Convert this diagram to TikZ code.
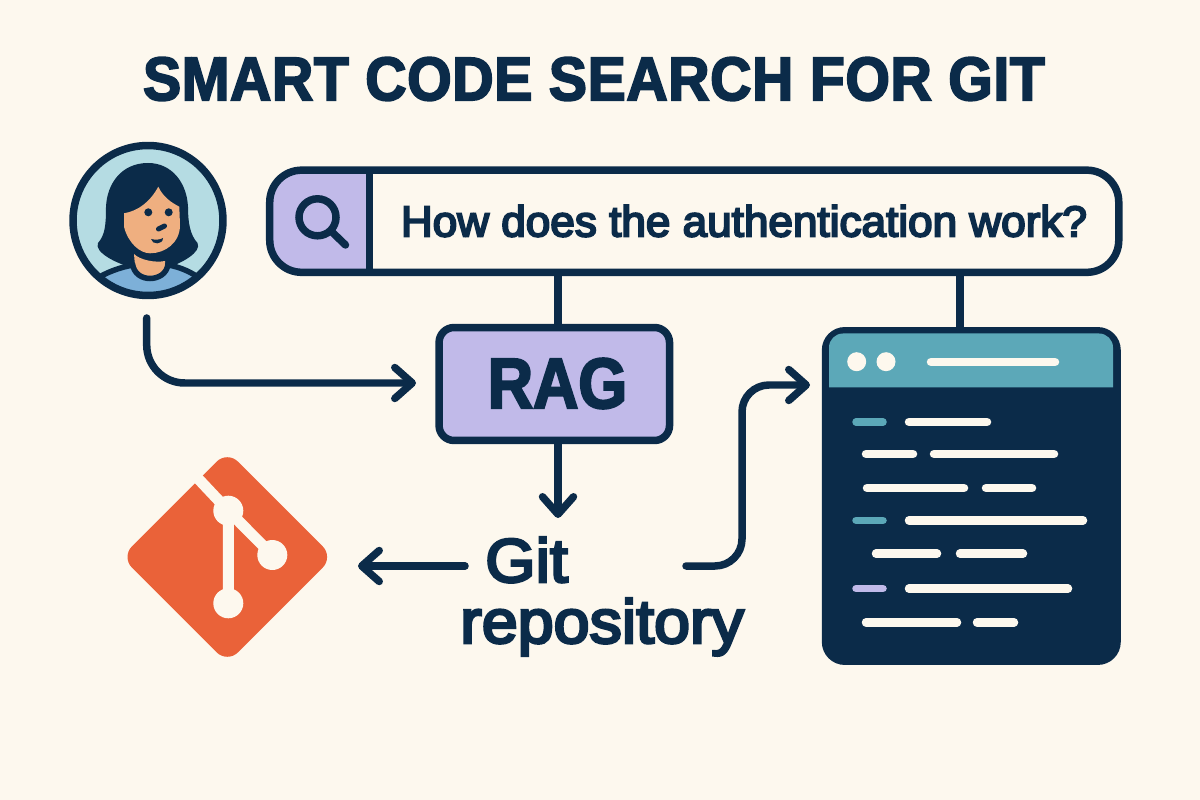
\documentclass[tikz,border=0pt]{standalone}
\usepackage{fontspec}
\usetikzlibrary{arrows.meta,calc}
\setmainfont{Liberation Sans}
\newfontfamily\titlef[FakeBold=3,FakeStretch=0.93,LetterSpace=1]{Liberation Sans Bold}
\newfontfamily\ragf[FakeBold=3,FakeStretch=0.88]{Liberation Sans Bold}
\newfontfamily\queryf[FakeBold=4.5,FakeStretch=1.02]{Liberation Sans}
\newfontfamily\repof[FakeBold=4.5,FakeStretch=1.05]{Liberation Sans}
\definecolor{navy}{HTML}{0B2B49}
\definecolor{paper}{HTML}{FDF8EE}
\definecolor{lav}{HTML}{C1BAE9}
\definecolor{teal}{HTML}{5CA8B8}
\definecolor{orangeg}{HTML}{EA6239}
\definecolor{sky}{HTML}{B5DCE3}
\definecolor{skin}{HTML}{EFAF80}
\definecolor{shirt}{HTML}{7DB0D8}
\tikzset{
  x=0.02cm, y=-0.02cm,
  ink/.style={draw=navy, line width=0.15cm},
  conn/.style={draw=navy, line width=0.15cm, line cap=round},
  arrowed/.style={conn, -{Straight Barb[length=0.35cm,width=0.62cm,line width=0.15cm,round]}},
  barw/.style={draw=paper, line width=0.17cm, line cap=round},
  bart/.style={draw=teal, line width=0.15cm, line cap=round},
  barl/.style={draw=lav, line width=0.15cm, line cap=round},
  lab/.style={text=navy, inner sep=0pt},
  gitdot/.style={circle, fill=paper, minimum size=0.6cm, inner sep=0pt},
}
\begin{document}
\begin{tikzpicture}
\useasboundingbox[fill=paper] (0,0) rectangle (1200,800);

% Title
\node[lab, font=\titlef\fontsize{35}{35}\selectfont] (title) at (594,79)
  {SMART CODE SEARCH FOR GIT};

% User avatar
\node[circle, fill=sky, minimum size=3cm, inner sep=0pt] (avatar) at (148,220.5) {};
\begin{scope}
  \clip (148,220.5) circle (75);
  % shirt
  \filldraw[fill=shirt, draw=navy, line width=0.11cm] (92,282) .. controls (105,272) and (122,267) .. (133,265)
     -- (168,265) .. controls (180,267) and (192,272) .. (205,282) -- (205,310) -- (92,310) -- cycle;
\end{scope}
% hair
\fill[navy] (148,163) .. controls (122,163) and (107,183) .. (106,207)
  .. controls (106,225) and (105,235) .. (98,243)
  .. controls (94,252) and (115,263) .. (133,268) -- (167,268)
  .. controls (182,263) and (202,252) .. (197.5,243)
  .. controls (190,235) and (188,222) .. (188,207)
  .. controls (187,183) and (172,163) .. (148,163) -- cycle;
% neck
\fill[skin] (134,254) .. controls (140,260) and (155,263) .. (165,261)
  -- (165,268) .. controls (164,272) and (157,276) .. (150,276)
  .. controls (143,276) and (136,272) .. (135,266) -- cycle;
\draw[navy, line width=0.11cm, line cap=round] (132.5,264)
  .. controls (134,274) and (142,278.5) .. (150,278.5)
  .. controls (158,278.5) and (167,274) .. (168,264);
% face
\fill[skin] (158.3,186.7)
  .. controls (150,202) and (138,211) .. (124,213.3)
  -- (124,226.7)
  .. controls (128,243) and (140,253.3) .. (150,253.3)
  .. controls (165,253.3) and (180,243) .. (180,225)
  -- (179.3,206.7)
  .. controls (172,203) and (163,197) .. (158.3,186.7) -- cycle;
\fill[navy] (148.3,212.3) circle (4) (168.7,212.3) circle (4);
\draw[navy, line width=0.1cm, line cap=round] (158.5,229) -- (164.5,226);
\fill[navy] (151,239) .. controls (155,240) and (160,240) .. (163,238)
  .. controls (163,245) and (152,245) .. (151,239) -- cycle;
\node[circle, ink, minimum size=3cm, inner sep=0pt] (avatarring) at (148,220.5) {};

% Search bar: field, icon panel, then the outline on top
\node[rectangle, fill=paper, rounded corners=0.64cm, minimum width=16.97cm, minimum height=2.03cm, inner sep=0pt] (search) at (694.25,221.25) {};
\begin{scope}
  \clip[rounded corners=0.64cm] (270,170.5) rectangle (1118.5,272);
  \fill[lav] (270,170) rectangle (369,273);
\end{scope}
\draw[ink, rounded corners=0.64cm] (search.south west) rectangle (search.north east);
\draw[ink] (369.3,170.5) -- (369.3,272);
\draw[ink] (317.5,217.3) circle (18.5);
\draw[ink, line cap=round] (331.5,231.5) -- (345.5,245);
\node[lab, font=\queryf\fontsize{24.6}{25}\selectfont] (query) at (744,221) {How does the authentication work?};

% RAG box
\node[rectangle, ink, fill=lav, rounded corners=0.3cm, minimum width=4.61cm, minimum height=2.26cm, inner sep=0pt] (rag) at (554.3,384) {};
\node[lab, font=\ragf\fontsize{40.6}{41}\selectfont] (raglabel) at (557.5,383.5) {RAG};

% Code window
\node[rectangle, fill=navy, rounded corners=0.46cm, minimum width=5.98cm, minimum height=6.76cm, inner sep=0pt] (window) at (971.3,496) {};
\fill[teal, rounded corners=0.28cm] (829,387.5) [sharp corners] -- (829,360) [rounded corners=0.28cm] -- (829,333.5) -- (1113,333.5) [sharp corners] -- (1113,360) -- (1113,387.5) -- cycle;
\fill[paper] (856.7,361.7) circle (9.5) (886,361.7) circle (9.5);
\draw[barw] (931,362) -- (1055,362);
\draw[bart] (856,422) -- (883,422);
\draw[barw] (909,422) -- (987,422);
\draw[barw] (866,454) -- (913,454);
\draw[barw] (934,454) -- (1054,454);
\draw[barw] (867,488) -- (964,488);
\draw[barw] (986,488) -- (1032,488);
\draw[bart] (856,520.3) -- (883,520.3);
\draw[barw] (909,520.3) -- (1083,520.3);
\draw[barw] (876,553.7) -- (937,553.7);
\draw[barw] (960,553.7) -- (1023,553.7);
\draw[barl] (856,588.7) -- (883,588.7);
\draw[barw] (909,588.7) -- (1068,588.7);
\draw[barw] (866,622.3) -- (957,622.3);
\draw[barw] (977,622.3) -- (1014,622.3);

% Git logo
\fill[orangeg, rounded corners=0.3cm] (227.3,451) -- (333.3,557) -- (227.3,663) -- (121.3,557) -- cycle;
\draw[paper, line width=0.22cm] (190,470) -- (228.3,510.7) -- (228.3,603.3);
\draw[paper, line width=0.22cm] (228.3,510.7) -- (272.3,555);
\node[gitdot] (gitc) at (228.3,510.7) {};
\node[gitdot] (gitb) at (272.3,555) {};
\node[gitdot] (gita) at (228.3,603.3) {};

% Repository label
\node[lab, font=\repof\fontsize{35}{34.7}\selectfont, align=left, anchor=north west] (repo) at (460,537)
  {\hspace{0.5cm}Git\\repository};

% Connectors
\coordinate (userout) at (146.7,318);
\coordinate (ragin) at (416,383);
\coordinate (repoleft) at (465,566);
\coordinate (logoin) at (358,566);
\coordinate (reporight) at (686,566);
\coordinate (winin) at (810,385);
\coordinate (ragdown) at (558,518);
\draw[arrowed, rounded corners=0.76cm] (userout) -- (146.7,383) -- (ragin);
\draw[arrowed] (repoleft) -- (logoin);
\draw[arrowed, rounded corners=0.54cm] (reporight) -- (742,566) -- (742,385) -- (winin);
\draw[ink] (search.south -| 558,0) -- (rag.north -| 558,0);
\draw[ink] (search.south -| 960,0) -- (window.north -| 960,0);
\draw[arrowed] (rag.south -| 558,0) -- (ragdown);
\end{tikzpicture}
\end{document}
